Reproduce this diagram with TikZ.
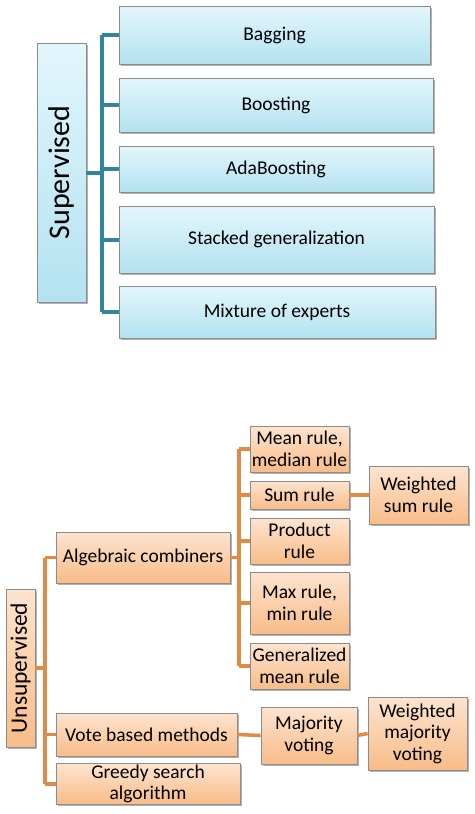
\documentclass[tikz,border=0pt]{standalone}
\usepackage{fontspec}
\setmainfont{Carlito}
\usetikzlibrary{shadows}
\definecolor{teal1}{HTML}{31859C}
\definecolor{org1}{HTML}{E08A45}
\definecolor{bluetop}{HTML}{E3F6FC}
\definecolor{bluebot}{HTML}{B3E2F1}
\definecolor{orgtop}{HTML}{FDE4CF}
\definecolor{orgbot}{HTML}{F8BC88}
\begin{document}
\begin{tikzpicture}[x=1pt,y=-1pt,
  box/.style={draw=black!45, line width=0.8pt, align=center, inner sep=1pt,
    drop shadow={shadow xshift=1.5pt, shadow yshift=-1.5pt, fill=black, opacity=0.3}},
  bbox/.style={box, top color=bluetop, bottom color=bluebot, font=\fontsize{19.5}{22}\selectfont},
  obox/.style={box, top color=orgtop, bottom color=orgbot, font=\fontsize{19.5}{21.5}\selectfont},
  tline/.style={draw=teal1, line width=4pt},
  oline/.style={draw=org1, line width=3.5pt}]
\useasboundingbox (0,0) rectangle (474,814);
% ---------- supervised ----------
\node[bbox, minimum width=49pt, minimum height=259pt] (sup) at (61.5,172.5) {\fontsize{30}{32}\selectfont\rotatebox{90}{Supervised}};
\node[bbox, minimum width=311pt, minimum height=58pt] (bag) at (274.5,35) {Bagging};
\node[bbox, minimum width=314pt, minimum height=54pt] (boost) at (276,105) {Boosting};
\node[bbox, minimum width=314pt, minimum height=46pt] (ada) at (276,169) {AdaBoosting};
\node[bbox, minimum width=315pt, minimum height=67pt] (stack) at (276.5,239.5) {Stacked generalization};
\node[bbox, minimum width=316pt, minimum height=52pt] (mix) at (277,312) {Mixture of experts};
\coordinate (tb) at (102,0);
\begin{scope}[on background layer/.style={}]
\end{scope}
\draw[tline] (bag.west -| tb) -- (mix.west -| tb);
\draw[tline] (sup.east) -- (sup.east -| tb);
\foreach \n in {bag,boost,ada,stack,mix}{\draw[tline] (\n.west -| tb) -- (\n.west);}
% ---------- unsupervised ----------
\node[obox, minimum width=29pt, minimum height=158pt] (uns) at (20.5,668) {\fontsize{23.5}{25}\selectfont\rotatebox{90}{Unsupervised}};
\node[obox, minimum width=174pt, minimum height=51pt] (alg) at (143,557.5) {Algebraic combiners};
\node[obox, minimum width=181pt, minimum height=43pt] (vote) at (146.5,734.5) {Vote based methods};
\node[obox, minimum width=184pt, minimum height=40pt] (greedy) at (148,784) {Greedy search\\algorithm};
\node[obox, minimum width=99pt, minimum height=46pt] (mean) at (299.5,449) {Mean rule,\\median rule};
\node[obox, minimum width=99pt, minimum height=28pt] (sum) at (299.5,495) {Sum rule};
\node[obox, minimum width=99pt, minimum height=46pt] (prod) at (299.5,541) {Product\\rule};
\node[obox, minimum width=99pt, minimum height=62pt] (max) at (299.5,603) {Max rule,\\min rule};
\node[obox, minimum width=99pt, minimum height=46pt] (gen) at (299.5,666) {Generalized\\mean rule};
\node[obox, minimum width=99pt, minimum height=58pt] (wsum) at (418.5,495) {Weighted\\sum rule};
\node[obox, minimum width=96pt, minimum height=57pt] (maj) at (309,735.5) {Majority\\voting};
\node[obox, minimum width=99pt, minimum height=73pt] (wmaj) at (417.5,733.5) {Weighted\\majority\\voting};
\coordinate (ob1) at (45,0);
\coordinate (ob2) at (239,0);
\draw[oline] (alg.west -| ob1) -- (greedy.west -| ob1);
\draw[oline] (uns.east) -- (uns.east -| ob1);
\foreach \n in {alg,vote,greedy}{\draw[oline] (\n.west -| ob1) -- (\n.west);}
\draw[oline] (mean.west -| ob2) -- (gen.west -| ob2);
\draw[oline] (alg.east) -- (alg.east -| ob2);
\foreach \n in {mean,sum,prod,max,gen}{\draw[oline] (\n.west -| ob2) -- (\n.west);}
\draw[oline] (sum.east) -- (wsum.west);
\draw[oline] (vote.east) -- (maj.west);
\draw[oline] (maj.east) -- (wmaj.west);
\end{tikzpicture}
\end{document}
